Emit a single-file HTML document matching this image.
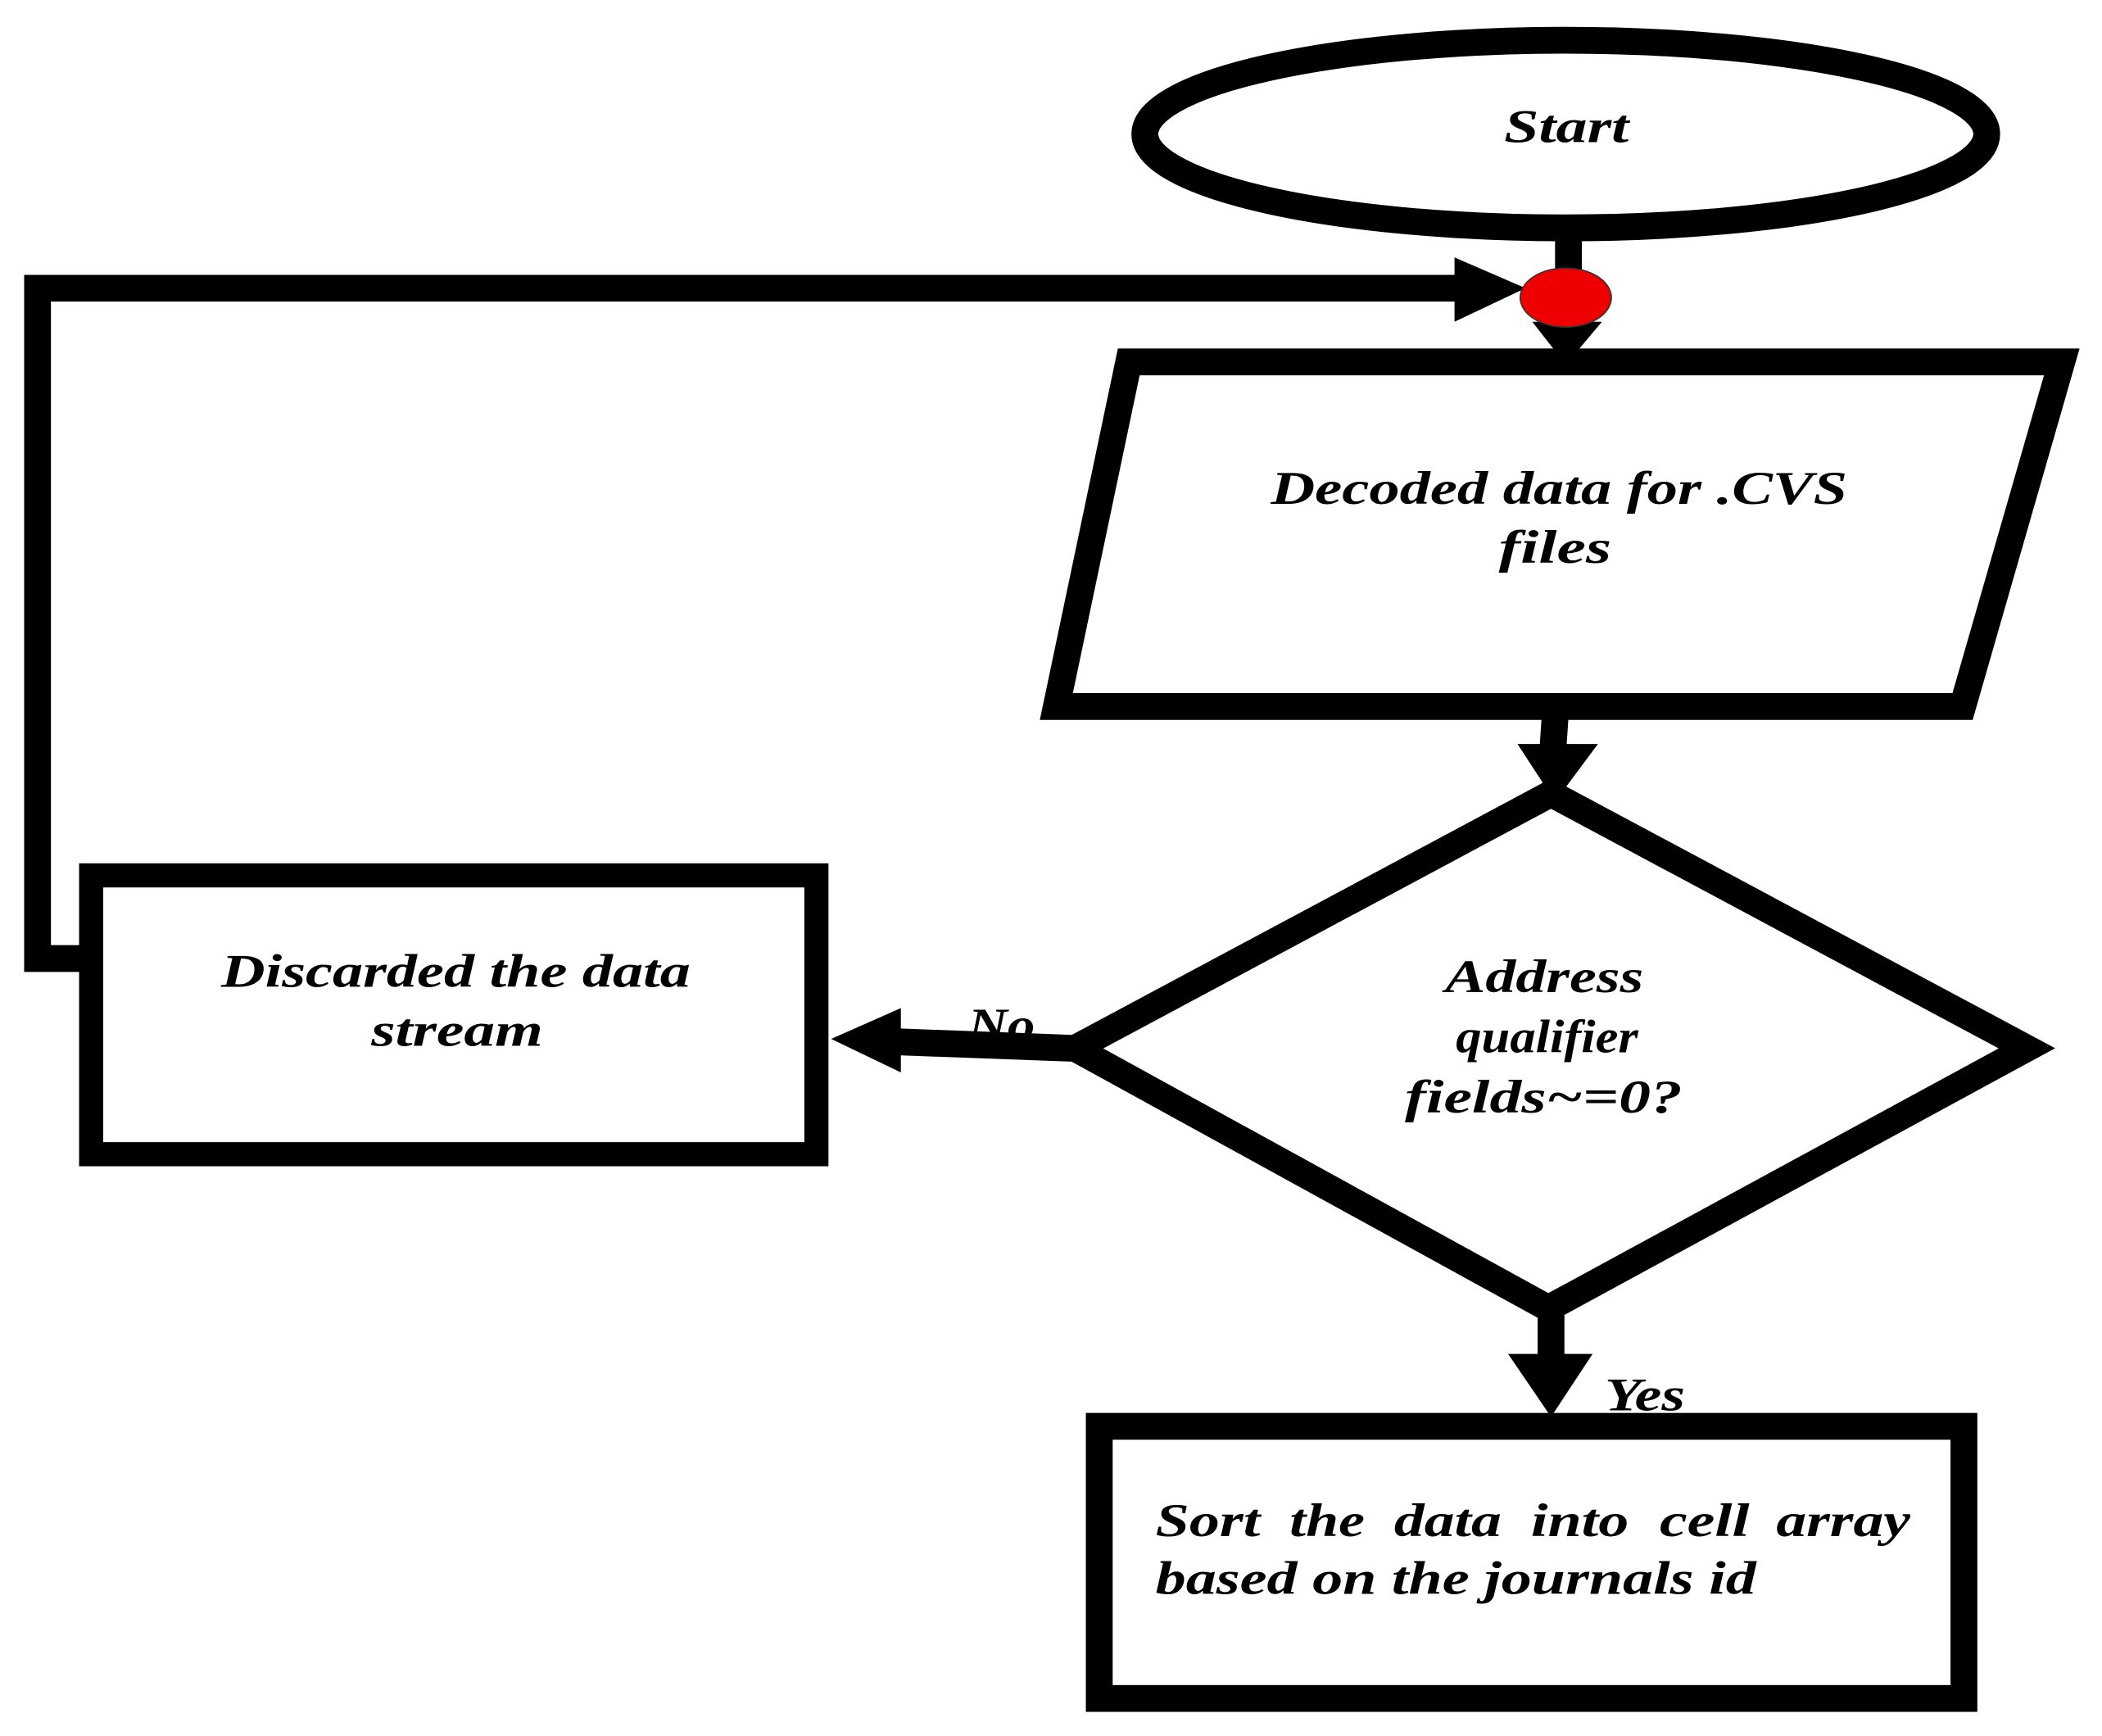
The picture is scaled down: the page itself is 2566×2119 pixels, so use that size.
<!DOCTYPE html>
<html><head><meta charset="utf-8"><style>
html,body{margin:0;padding:0;background:#fff;}
svg{display:block;}
text{font-family:"Liberation Serif",serif;font-weight:bold;font-style:italic;font-size:35px;fill:#000;}
</style></head><body>
<svg width="2566" height="2119" viewBox="0 0 1568 1295" preserveAspectRatio="none" xmlns="http://www.w3.org/2000/svg">
<rect width="1568" height="1295" fill="#fff"/>
<g fill="none" stroke="#000" stroke-width="20">
<ellipse cx="1168" cy="100" rx="314" ry="70"/>
<line x1="1170" y1="168" x2="1170" y2="205"/>
<polyline points="62,715 28,715 28,215 1095,215"/>
<polygon points="842,270 1538,270 1464,527 788,527"/>
<line x1="1160" y1="535" x2="1158" y2="565"/>
<polygon points="1157,592 1512,782 1155,976 802,782"/>
<line x1="800" y1="782" x2="665" y2="777"/>
<rect x="68" y="653" width="541" height="208" stroke-width="18"/>
<line x1="1157" y1="980" x2="1157" y2="1015"/>
<rect x="820" y="1064" width="645" height="203" stroke-width="20"/>
</g>
<polygon points="1085,192 1138,215 1085,240" fill="#000"/>
<polygon points="1143,240 1195,240 1168,272" fill="#000"/>
<ellipse cx="1168" cy="222" rx="34" ry="22" fill="#e00" stroke="#333" stroke-width="1"/>
<polygon points="1132,555 1192,555 1160,598" fill="#000"/>
<polygon points="672,752 620,775 672,800" fill="#000"/>
<polygon points="1125,1010 1188,1010 1157,1057" fill="#000"/>
<text x="1122" y="106" textLength="93" lengthAdjust="spacingAndGlyphs">Start</text>
<text x="948" y="376" textLength="430" lengthAdjust="spacingAndGlyphs">Decoded data for .CVS</text>
<text x="1118" y="420" textLength="84" lengthAdjust="spacingAndGlyphs">files</text>
<text x="1078" y="740" textLength="148" lengthAdjust="spacingAndGlyphs">Address</text>
<text x="1086" y="785" textLength="136" lengthAdjust="spacingAndGlyphs">qualifier</text>
<text x="1048" y="830" textLength="207" lengthAdjust="spacingAndGlyphs">fields~=0?</text>
<text x="722" y="776" textLength="50" lengthAdjust="spacingAndGlyphs">No</text>
<text x="165" y="736" textLength="350" lengthAdjust="spacingAndGlyphs">Discarded the data</text>
<text x="277" y="780" textLength="128" lengthAdjust="spacingAndGlyphs">stream</text>
<text x="1197" y="1052" textLength="60" lengthAdjust="spacingAndGlyphs">Yes</text>
<text x="862" y="1146" textLength="78" lengthAdjust="spacingAndGlyphs">Sort</text>
<text x="962" y="1146" textLength="56" lengthAdjust="spacingAndGlyphs">the</text>
<text x="1040" y="1146" textLength="80" lengthAdjust="spacingAndGlyphs">data</text>
<text x="1142" y="1146" textLength="73" lengthAdjust="spacingAndGlyphs">into</text>
<text x="1238" y="1146" textLength="67" lengthAdjust="spacingAndGlyphs">cell</text>
<text x="1325" y="1146" textLength="100" lengthAdjust="spacingAndGlyphs">array</text>
<text x="862" y="1189" textLength="448" lengthAdjust="spacingAndGlyphs">based on the journals id</text>
</svg>
</body></html>
